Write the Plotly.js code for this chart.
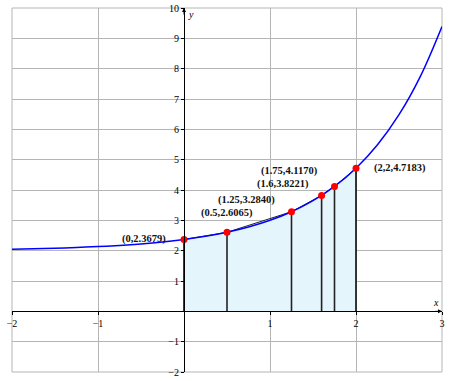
<!DOCTYPE html>
<html><head><meta charset="utf-8">
<script src="https://cdn.plot.ly/plotly-3.0.1.min.js"></script>
<style>html,body{margin:0;padding:0;background:#fff}</style>
</head><body>
<div id="chart" style="width:450px;height:381px"></div>
<script>
// curve samples
const curveX = [-2,-1.75,-1.5,-1.25,-1,-0.75,-0.5,-0.25,0,0.25,0.5,0.75,1,1.25,1.5,1.75,2,2.25,2.5,2.75,3];
const curveY = [2.0498,2.0639,2.0821,2.1054,2.1353,2.1738,2.2231,2.2865,2.3679,2.4724,2.6065,2.7788,3.0,3.2840,3.6487,4.1170,4.7183,5.4903,6.4817,7.7546,9.389];
// marked points
const ptX = [0,0.5,1.25,1.6,1.75,2];
const ptY = [2.3679,2.6065,3.2840,3.8221,4.1170,4.7183];
const ptLabels = ["(0,2.3679)","(0.5,2.6065)","(1.25,3.2840)","(1.6,3.8221)","(1.75,4.1170)","(2,2,4.7183)"];
// ticks
const xTicks = [-2,-1,1,2,3];
const xTickText = ["\u22122","\u22121","1","2","3"];
const yTicks = [-2,-1,1,2,3,4,5,6,7,8,9,10];
const yTickText = ["\u22122","\u22121","1","2","3","4","5","6","7","8","9","10"];

// label placement (style only)
const labelPos = [
  {xanchor:'right', xshift:-16, yshift:1},
  {xanchor:'center', xshift:0, yshift:19},
  {xanchor:'right', xshift:-15, yshift:12},
  {xanchor:'right', xshift:-11, yshift:11},
  {xanchor:'right', xshift:-15, yshift:15},
  {xanchor:'left', xshift:16, yshift:0}
];

const polyX = [ptX[0]].concat(ptX, [ptX[ptX.length-1]]);
const polyY = [0].concat(ptY, [0]);
const vX = [], vY = [];
ptX.forEach((x,i)=>{ vX.push(x,x,null); vY.push(0,ptY[i],null); });

const traces = [
  {x: polyX, y: polyY, type:'scatter', mode:'lines', fill:'toself', fillcolor:'#e4f5fc',
   line:{color:'#222', width:1}, hoverinfo:'skip', showlegend:false},
  {x: vX, y: vY, type:'scatter', mode:'lines', line:{color:'#222', width:1.6}, showlegend:false},
  {x: curveX, y: curveY, type:'scatter', mode:'lines', line:{color:'#0000ff', width:1.5, shape:'spline'}, showlegend:false},
  {x: ptX, y: ptY, type:'scatter', mode:'markers', marker:{color:'#ff0000', size:7}, showlegend:false}
];

const fontTick = {family:'Liberation Serif, DejaVu Serif, serif', size:10, color:'#000'};
const annotations = ptLabels.map((t,i)=>Object.assign({
  x: ptX[i], y: ptY[i], text: '<b>'+t+'</b>', showarrow:false, yanchor:'middle',
  font:{family:'Liberation Serif, DejaVu Serif, serif', size:10.5, color:'#111'}
}, labelPos[i]));
annotations.push({x:3, y:0, ax:-8, ay:0, text:'', showarrow:true, arrowhead:2, arrowsize:0.8, arrowwidth:1, arrowcolor:'#000'});
annotations.push({x:0, y:10, ax:0, ay:8, text:'', showarrow:true, arrowhead:2, arrowsize:0.8, arrowwidth:1, arrowcolor:'#000'});
annotations.push({x:3, y:0, text:'<i>x</i>', showarrow:false, xshift:-6, yshift:9, font:fontTick});
annotations.push({x:0, y:10, text:'<i>y</i>', showarrow:false, xshift:7, yshift:-6, font:fontTick});

const layout = {
  width:450, height:381,
  margin:{l:12, r:8, t:8, b:9},
  paper_bgcolor:'#fff', plot_bgcolor:'#fff',
  showlegend:false,
  xaxis:{range:[-2,3], anchor:'free', position:2/12, showline:true, linecolor:'#000', linewidth:1,
    tickvals:xTicks, ticktext:xTickText, ticks:'outside', ticklen:3, tickcolor:'#000',
    showgrid:true, gridcolor:'#b5b5b5', gridwidth:1, zeroline:false, tickfont:fontTick, fixedrange:true},
  yaxis:{range:[-2,10], anchor:'free', position:0.4, showline:true, linecolor:'#000', linewidth:1,
    tickvals:yTicks, ticktext:yTickText, ticks:'outside', ticklen:3, tickcolor:'#000',
    showgrid:true, gridcolor:'#b5b5b5', gridwidth:1, zeroline:false, tickfont:fontTick, fixedrange:true},
  shapes:[{type:'rect', xref:'paper', yref:'paper', x0:0, x1:1, y0:0, y1:1, line:{color:'#b5b5b5', width:1}, layer:'below'}],
  annotations: annotations
};
Plotly.newPlot('chart', traces, layout, {displayModeBar:false, staticPlot:true});
</script>
</body></html>
